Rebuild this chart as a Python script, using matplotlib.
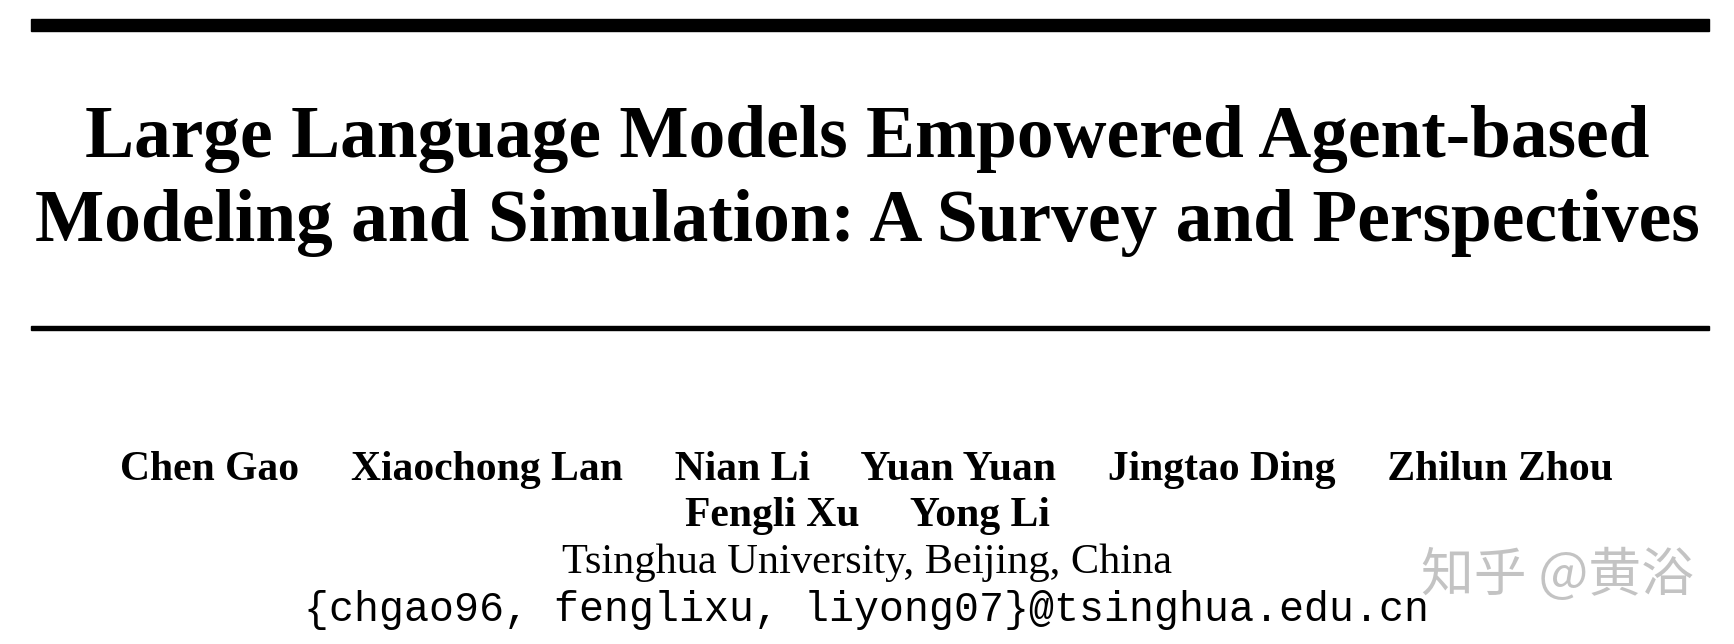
import matplotlib
matplotlib.use("Agg")
import matplotlib.pyplot as plt
from matplotlib.patches import Rectangle

title_lines = ["Large Language Models Empowered Agent-based",
               "Modeling and Simulation: A Survey and Perspectives"]
authors_row1 = ["Chen Gao", "Xiaochong Lan", "Nian Li", "Yuan Yuan", "Jingtao Ding", "Zhilun Zhou"]
authors_row2 = ["Fengli Xu", "Yong Li"]
affiliation = "Tsinghua University, Beijing, China"
email = "{chgao96, fenglixu, liyong07}@tsinghua.edu.cn"
watermark = "知乎 @黄浴"

H = 580.0  # reference layout height units
fig = plt.figure(figsize=(17.34, 6.44), dpi=100)
fig.patch.set_facecolor("white")

def fy(y):
    return 1 - y / H

# rules
fig.add_artist(Rectangle((28 / 1568, fy(28)), 1517 / 1568, 11 / H, transform=fig.transFigure, color="black"))
fig.add_artist(Rectangle((28 / 1568, fy(297)), 1517 / 1568, 3.5 / H, transform=fig.transFigure, color="black"))

serif = "Liberation Serif"
for i, line in enumerate(title_lines):
    fig.text(0.5, fy(125 + 76 * i), line, ha="center", va="center", family=serif,
             weight="bold", fontsize=52.8)

gap = "     "
fig.text(0.5, fy(423), gap.join(authors_row1), ha="center", va="center", family=serif,
         weight="bold", fontsize=30)
fig.text(0.5, fy(465), gap.join(authors_row2), ha="center", va="center", family=serif,
         weight="bold", fontsize=30)
fig.text(0.5, fy(507), affiliation, ha="center", va="center", family=serif, fontsize=30.5)
fig.text(0.5, fy(549), email, ha="center", va="center", family="Liberation Mono", fontsize=30)

fig.text(1408 / 1568, fy(518), watermark, ha="center", va="center",
         family=["Noto Sans CJK SC", "DejaVu Sans"], fontsize=38, color="#bdbdbd", alpha=0.9)

plt.savefig("out.png", dpi=100, facecolor="white")
